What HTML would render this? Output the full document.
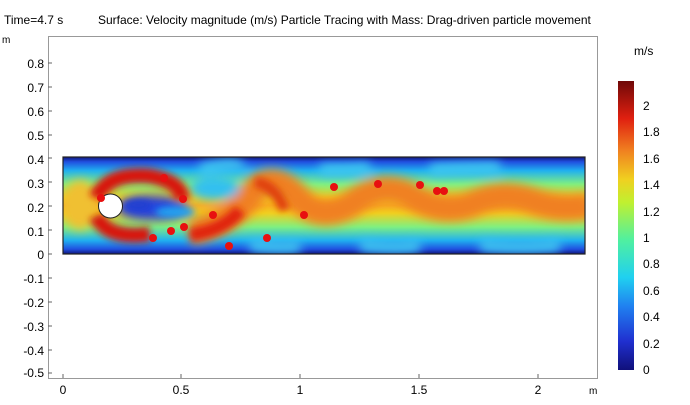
<!DOCTYPE html>
<html><head><style>
body{margin:0;background:#fff;width:690px;height:400px;overflow:hidden;font-family:"Liberation Sans",sans-serif;}
</style></head><body>
<svg width="690" height="400" xmlns="http://www.w3.org/2000/svg" font-family="Liberation Sans, sans-serif" font-size="12">
<defs>
<linearGradient id="base" x1="0" y1="0" x2="0" y2="1">
<stop offset="0" stop-color="#10157a"/><stop offset="0.05" stop-color="#2050e0"/>
<stop offset="0.14" stop-color="#20b0f0"/><stop offset="0.28" stop-color="#80f080"/>
<stop offset="0.42" stop-color="#f0d020"/><stop offset="0.5" stop-color="#f8b020"/>
<stop offset="0.58" stop-color="#f0d020"/><stop offset="0.72" stop-color="#80f080"/>
<stop offset="0.86" stop-color="#20b0f0"/><stop offset="0.95" stop-color="#2050e0"/>
<stop offset="1" stop-color="#10157a"/></linearGradient>
<linearGradient id="cb" x1="0" y1="1" x2="0" y2="0">
<stop offset="0" stop-color="#10107a"/><stop offset="0.1" stop-color="#2030d0"/>
<stop offset="0.22" stop-color="#2080f0"/><stop offset="0.32" stop-color="#20d0f0"/>
<stop offset="0.45" stop-color="#50f0a0"/><stop offset="0.58" stop-color="#c0f030"/>
<stop offset="0.66" stop-color="#f0d020"/><stop offset="0.76" stop-color="#f08020"/>
<stop offset="0.87" stop-color="#e02010"/><stop offset="1" stop-color="#700808"/></linearGradient>
<filter id="b" x="-20%" y="-50%" width="140%" height="200%"><feGaussianBlur stdDeviation="5"/></filter>
<filter id="s" x="-20%" y="-50%" width="140%" height="200%"><feGaussianBlur stdDeviation="3.5"/></filter>
<clipPath id="ch"><rect x="63" y="157" width="522" height="97"/></clipPath>
</defs>
<text x="4" y="24" font-size="12">Time=4.7 s</text>
<text x="98" y="24" font-size="12">Surface: Velocity magnitude (m/s) Particle Tracing with Mass: Drag-driven particle movement</text>
<text x="2" y="43" font-size="10">m</text>
<rect x="48.5" y="36.5" width="549" height="342" fill="none" stroke="#999"/>
<g font-size="12" text-anchor="end">
<text x="44" y="68">0.8</text><text x="44" y="92">0.7</text><text x="44" y="116">0.6</text><text x="44" y="140">0.5</text>
<text x="44" y="164">0.4</text><text x="44" y="188">0.3</text><text x="44" y="212">0.2</text><text x="44" y="236">0.1</text>
<text x="44" y="259">0</text><text x="44" y="283">-0.1</text><text x="44" y="307">-0.2</text><text x="44" y="331">-0.3</text>
<text x="44" y="355">-0.4</text><text x="44" y="377">-0.5</text></g>
<g stroke="#666"><path d="M48 63h4M48 87h4M48 111h4M48 135h4M48 158h4M48 182h4M48 206h4M48 230h4M48 254h4M48 278h4M48 302h4M48 326h4M48 350h4M48 373h4"/>
<path d="M63 378v-4M181 378v-4M300 378v-4M419 378v-4M538 378v-4"/></g>
<g font-size="12" text-anchor="middle"><text x="63" y="394">0</text><text x="181" y="394">0.5</text><text x="300" y="394">1</text><text x="419" y="394">1.5</text><text x="538" y="394">2</text></g>
<text x="589" y="394" font-size="10">m</text>
<g clip-path="url(#ch)">
<rect x="63" y="157" width="522" height="97" fill="url(#base)"/>
<g filter="url(#b)">
<ellipse cx="80" cy="205" rx="18" ry="25" fill="#f0c030"/>
<path d="M190 232 Q230 225 255 190 Q275 170 300 200 Q320 222 350 205 Q380 180 410 195 Q440 215 470 205 Q500 190 530 200 Q560 212 590 205" stroke="#f08020" stroke-width="26" fill="none"/>
<path d="M200 170 Q240 160 240 170 M250 245 Q290 250 300 245 M320 170 Q360 170 370 168 M360 245 Q400 250 420 245 M430 170 Q470 168 500 168 M480 245 Q520 250 560 245" stroke="#40c8f0" stroke-width="12" fill="none"/>
<ellipse cx="215" cy="188" rx="25" ry="12" fill="#30c0f0"/>
<ellipse cx="152" cy="208" rx="35" ry="12" fill="#2040e0"/>
</g>
<g filter="url(#s)">
<path d="M96 198 Q108 172 150 176 Q182 182 182 200" stroke="#d81810" stroke-width="15" fill="none"/>
<path d="M96 216 Q108 240 150 234" stroke="#d81810" stroke-width="15" fill="none"/>
<path d="M190 235 Q225 230 240 210" stroke="#e02010" stroke-width="13" fill="none"/>
<path d="M255 182 Q275 185 285 210" stroke="#e04010" stroke-width="11" fill="none"/>
<ellipse cx="175" cy="212" rx="20" ry="6" fill="#20a0f0"/>
<ellipse cx="138" cy="205" rx="14" ry="6" fill="#2040d0"/>
</g>
</g>
<rect x="63" y="157" width="522" height="97" fill="none" stroke="#222" stroke-width="1.2"/>
<circle cx="110.5" cy="206" r="12" fill="#fff" stroke="#222"/>
<g fill="#e81010">
<circle cx="101" cy="198" r="4"/><circle cx="164" cy="178" r="4"/><circle cx="183" cy="199" r="4"/>
<circle cx="153" cy="238" r="4"/><circle cx="171" cy="231" r="4"/><circle cx="184" cy="227" r="4"/>
<circle cx="213" cy="215" r="4"/><circle cx="229" cy="246" r="4"/><circle cx="267" cy="238" r="4"/>
<circle cx="304" cy="215" r="4"/><circle cx="334" cy="187" r="4"/><circle cx="378" cy="184" r="4"/>
<circle cx="420" cy="185" r="4"/><circle cx="437" cy="191" r="4"/><circle cx="444" cy="191" r="4"/></g>
<text x="634" y="55" font-size="12">m/s</text>
<rect x="618" y="81" width="16" height="289" fill="url(#cb)"/>
<g font-size="12"><text x="643" y="110">2</text><text x="643" y="136">1.8</text><text x="643" y="163">1.6</text><text x="643" y="189">1.4</text>
<text x="643" y="216">1.2</text><text x="643" y="242">1</text><text x="643" y="268">0.8</text><text x="643" y="295">0.6</text>
<text x="643" y="321">0.4</text><text x="643" y="348">0.2</text><text x="643" y="374">0</text></g>
</svg>
</body></html>
